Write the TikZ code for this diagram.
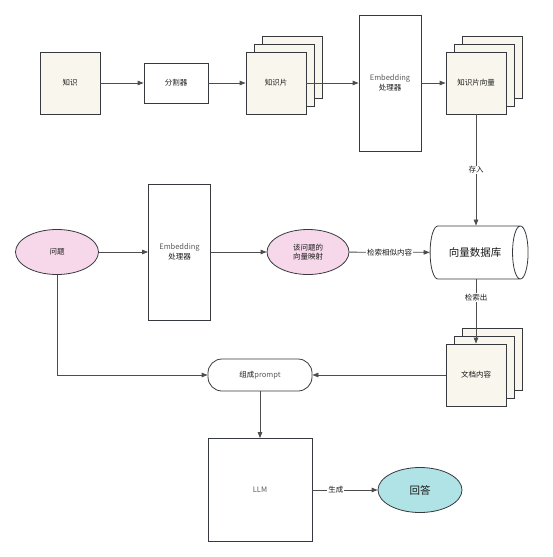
\documentclass[tikz,border=0pt]{standalone}
\usepackage{fontspec}
\setmainfont{Noto Sans CJK SC}
\usepackage{tikz}
\usetikzlibrary{positioning, shapes.geometric, shadows, arrows.meta}

\definecolor{edge}{RGB}{54,57,61}
\definecolor{wire}{RGB}{77,77,77}
\definecolor{chipfill}{RGB}{249,247,237}
\definecolor{askfill}{RGB}{247,216,234}
\definecolor{replyfill}{RGB}{176,227,230}
\definecolor{latintext}{RGB}{90,90,90}

\begin{document}
\begin{tikzpicture}[x=1pt, y=-1pt,
    every node/.style={font=\fontsize{7.5}{9.5}\selectfont, text=black!90, align=center},
    block/.style={draw=edge, line width=0.8pt, fill=white, inner sep=1pt},
    chip/.style={block, fill=chipfill, minimum width=60pt, minimum height=62pt},
    chipstack/.style={chip, double copy shadow={shadow xshift=8pt, shadow yshift=8pt, fill=chipfill, draw=edge, line width=0.8pt}},
    tall/.style={block, minimum width=62pt, minimum height=136pt},
    oval/.style={ellipse, draw=edge, line width=0.8pt, minimum width=83pt, minimum height=45pt, inner sep=0pt},
    link/.style={draw=wire, line width=0.8pt, -{Triangle[length=6pt, width=4.5pt]}},
    tag/.style={fill=white, inner sep=1pt}]
  \useasboundingbox (0,0) rectangle (553,557);
  % Knowledge side
  \node[chip] (know) at (70,83) {知识};
  \node[block, minimum width=64pt, minimum height=40pt] (split) at (176,83) {分割器};
  \node[chipstack] (pieces) at (276,83) {知识片};
  \node[tall] (embedA) at (390,83) {{\color{latintext}Embedding}\\处理器};
  \node[chipstack] (vectors) at (476,83) {知识片向量};
  % Question side
  \node[oval, fill=askfill] (ask) at (57,252) {问题};
  \node[tall] (embedB) at (179.5,252) {{\color{latintext}Embedding}\\处理器};
  \node[oval, fill=askfill, minimum width=82pt] (askvec) at (308,252) {该问题的\\向量映射};
  \node[cylinder, shape aspect=1.6, draw=edge, line width=0.8pt, fill=white,
        minimum width=53pt, minimum height=98pt, inner sep=0pt,
        font=\fontsize{10.5}{12}\selectfont] (db) at (475,252.5) {向量数据库};
  \node[chipstack] (docs) at (476,375) {文档内容};
  % Answer side
  \node[block, rounded corners=14pt, minimum width=104pt, minimum height=32pt] (prompt) at (260,375) {组成{\color{latintext}prompt}};
  \node[block, minimum width=104pt, minimum height=103pt] (llm) at (260,490) {{\color{latintext}LLM}};
  \node[oval, fill=replyfill, minimum width=84pt, font=\fontsize{10.5}{12}\selectfont] (reply) at (420,490) {回答};
  % Connectors
  \draw[link] (know) -- (split);
  \draw[link] (split) -- (pieces);
  \draw[link] (pieces) -- (embedA);
  \draw[link] (embedA) -- (vectors);
  \draw[link] (vectors.south) -- node[tag] {存入} (vectors.south |- db.north);
  \draw[link] (ask) -- (embedB);
  \draw[link] (embedB) -- (askvec);
  \draw[link] (askvec) -- node[tag] {检索相似内容} (db);
  \draw[link] (docs.north |- db.south) -- node[tag, pos=0.28] {检索出} (docs.north);
  \draw[link] (docs) -- (prompt);
  \draw[link] (ask) |- (prompt);
  \draw[link] (prompt) -- (llm);
  \draw[link] (llm) -- node[tag, pos=0.36] {生成} (reply);
\end{tikzpicture}
\end{document}
